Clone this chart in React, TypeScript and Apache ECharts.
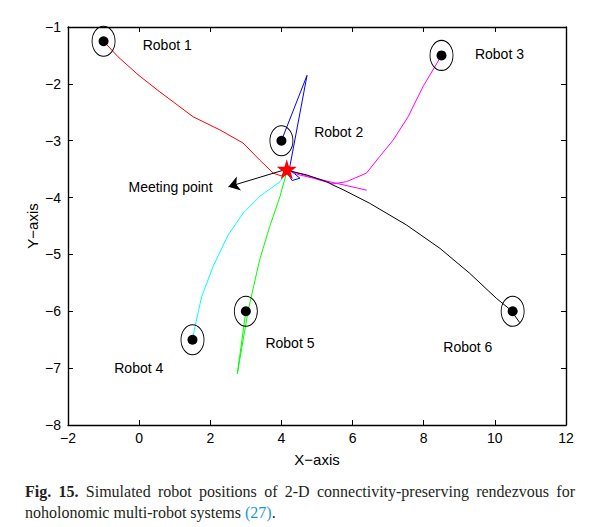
import { useEffect, useRef } from 'react';
import * as echarts from 'echarts';

// robot start positions
const robotStarts = [
  [-1, -1.25],
  [4, -3],
  [8.5, -1.5],
  [1.5, -6.5],
  [3, -6],
  [10.5, -6],
];

const robot1Path = [
  [-1, -1.25], [-0.6, -1.52], [-0.03, -1.84], [0.58, -2.14], [1.52, -2.58],
  [2.27, -2.81], [2.92, -3.04], [3.39, -3.34], [3.77, -3.57], [4.0, -3.62], [4.15, -3.52],
];
const robot2Path = [
  [4, -3], [4.72, -1.85], [4.22, -3.51], [4.33, -3.56], [4.52, -3.66],
  [4.3, -3.7], [4.2, -3.6], [4.15, -3.52],
];
const robot3Path = [
  [8.5, -1.5], [7.98, -2.05], [7.56, -2.58], [7.14, -2.99], [6.76, -3.28],
  [6.39, -3.57], [5.83, -3.72], [5.45, -3.76], [4.9, -3.66], [4.5, -3.6],
  [4.15, -3.52], [5.2, -3.7], [6.4, -3.87],
];
const robot4Path = [
  [1.5, -6.5], [1.57, -6.27], [1.76, -5.74], [2.08, -5.21], [2.5, -4.66],
  [2.93, -4.27], [3.39, -3.98], [3.96, -3.72], [4.15, -3.55],
];
const robot5Path = [
  [3, -6], [2.76, -7.1], [3.07, -5.97], [3.39, -5.09], [3.67, -4.51],
  [3.96, -3.98], [4.15, -3.55],
];
const robot6Path = [
  [10.7, -6.2], [10.45, -5.98], [10.04, -5.77], [9.29, -5.33], [8.45, -4.89],
  [7.51, -4.48], [6.48, -4.1], [5.73, -3.86], [5.45, -3.78], [5.27, -3.72],
  [4.7, -3.6], [4.15, -3.52],
];

const meetingPoint = [4.15, -3.5];
const arrowTip = [2.51, -3.81];

const labelNames = ['Robot 1', 'Robot 2', 'Robot 3', 'Robot 4', 'Robot 5', 'Robot 6', 'Meeting point'];
const labelCoords = [
  [0.1, -1.32],
  [4.92, -2.84],
  [9.44, -1.47],
  [-0.7, -7.0],
  [3.55, -6.56],
  [8.55, -6.62],
  [-0.3, -3.81],
];

const xTicks = { min: -2, max: 12, interval: 2 };
const yTicks = { min: -8, max: -1, interval: 1 };

const captionLine1 = ['Fig.', '15.', 'Simulated', 'robot', 'positions', 'of', '2-D', 'connectivity-preserving', 'rendezvous', 'for'];
const captionBold = 2;
const captionLine2 = 'noholonomic multi-robot systems {c|(27)}.';

const ellipsePath =
  'path://M0,-1C0.552,-1 1,-0.552 1,0C1,0.552 0.552,1 0,1C-0.552,1 -1,0.552 -1,0C-1,-0.552 -0.552,-1 0,-1Z';
const starPath =
  'path://M50,0L61,35L98,35L68,57L79,91L50,70L21,91L32,57L2,35L39,35Z';

const fmt = (v: number) => String(v).replace('-', '\u2212');

const serif = 'Liberation Serif, serif';
const capSize = 16;

// lay the first caption line out justified between two x positions
function justified(words: string[], x0: number, x1: number) {
  const ctx = document.createElement('canvas').getContext('2d')!;
  const widths = words.map((w, i) => {
    ctx.font = `${i < captionBold ? 'bold ' : ''}${capSize}px ${serif}`;
    return ctx.measureText(w).width;
  });
  const total = widths.reduce((a, b) => a + b, 0);
  const gap = (x1 - x0 - total) / (words.length - 1);
  let x = x0;
  return words.map((w, i) => {
    const el = {
      type: 'text',
      x,
      y: 483,
      style: {
        text: w,
        fontFamily: serif,
        fontSize: capSize,
        fontWeight: i < captionBold ? 'bold' : 'normal',
        fill: '#231f20',
      },
    };
    x += widths[i] + gap;
    return el;
  });
}

export default function App() {
  const ref = useRef<HTMLDivElement>(null);

  useEffect(() => {
    if (!ref.current) return;
    const chart = echarts.init(ref.current, null, { renderer: 'svg' });

    const font = 'Liberation Sans, Arial, sans-serif';
    const pathSeries = [
      { d: robot1Path, c: '#ff0000' },
      { d: robot2Path, c: '#0000ff' },
      { d: robot3Path, c: '#ff00ff' },
      { d: robot4Path, c: '#00ffff' },
      { d: robot5Path, c: '#00ff00' },
      { d: robot6Path, c: '#000000' },
    ].map((p) => ({
      type: 'line',
      data: p.d,
      symbol: 'none',
      lineStyle: { color: p.c, width: 1 },
      silent: true,
      z: 2,
    }));

    const tickStyle = { show: true, inside: true, length: 5, lineStyle: { color: '#000', width: 1 } };
    const lineStyle = { show: true, lineStyle: { color: '#000', width: 1.4 } };

    chart.setOption({
      animation: false,
      grid: { left: 68, right: 32, top: 27, bottom: 102 },
      xAxis: [
        {
          type: 'value', ...xTicks, position: 'bottom',
          axisLine: { ...lineStyle, onZero: false }, axisTick: tickStyle, splitLine: { show: false },
          axisLabel: { color: '#000', fontFamily: font, fontSize: 14, margin: 6, formatter: fmt },
          name: 'X\u2212axis', nameLocation: 'middle', nameGap: 27,
          nameTextStyle: { color: '#000', fontFamily: font, fontSize: 15 },
        },
        {
          type: 'value', ...xTicks, position: 'top',
          axisLine: { ...lineStyle, onZero: false }, axisTick: tickStyle, splitLine: { show: false },
          axisLabel: { show: false },
        },
      ],
      yAxis: [
        {
          type: 'value', ...yTicks, position: 'left',
          axisLine: { ...lineStyle, onZero: false }, axisTick: tickStyle, splitLine: { show: false },
          axisLabel: { color: '#000', fontFamily: font, fontSize: 14, margin: 7, formatter: fmt },
          name: 'Y\u2212axis', nameLocation: 'middle', nameGap: 28, nameMoveOverlap: false,
          nameTextStyle: { color: '#000', fontFamily: font, fontSize: 15 },
        },
        {
          type: 'value', ...yTicks, position: 'right',
          axisLine: { ...lineStyle, onZero: false }, axisTick: tickStyle, splitLine: { show: false },
          axisLabel: { show: false },
        },
      ],
      series: [
        ...pathSeries,
        {
          type: 'lines',
          coordinateSystem: 'cartesian2d',
          data: [{ coords: [meetingPoint, arrowTip] }],
          lineStyle: { color: '#000', width: 1, opacity: 1 },
          symbol: ['none', 'arrow'],
          symbolSize: 11,
          z: 3,
        },
        {
          type: 'scatter',
          data: robotStarts,
          symbol: ellipsePath,
          symbolSize: [23, 30],
          itemStyle: { color: 'none', borderColor: '#000', borderWidth: 1, opacity: 1 },
          z: 3,
        },
        {
          type: 'scatter',
          data: robotStarts,
          symbol: 'circle',
          symbolSize: 10,
          itemStyle: { color: '#000', opacity: 1 },
          z: 4,
        },
        {
          type: 'scatter',
          data: [meetingPoint],
          symbol: starPath,
          symbolSize: 20,
          itemStyle: { color: '#ff0000', opacity: 1 },
          z: 5,
        },
        {
          type: 'scatter',
          data: labelNames.map((n, i) => ({ name: n, value: labelCoords[i] })),
          symbolSize: 0,
          itemStyle: { opacity: 1 },
          label: {
            show: true,
            position: 'right',
            distance: 0,
            formatter: '{b}',
            color: '#000',
            opacity: 1,
            fontFamily: font,
            fontSize: 14,
          },
          z: 6,
        },
      ],
      graphic: [
        ...justified(captionLine1, 25, 575),
        {
          type: 'text',
          x: 25,
          y: 504,
          style: {
            text: captionLine2,
            fontFamily: serif,
            fontSize: capSize,
            fill: '#231f20',
            rich: { c: { fill: '#1a96d4', fontFamily: serif, fontSize: capSize } },
          },
        },
      ],
    });

    return () => chart.dispose();
  }, []);

  return <div ref={ref} style={{ position: 'absolute', left: 0, top: 0, width: 598, height: 527 }} />;
}
